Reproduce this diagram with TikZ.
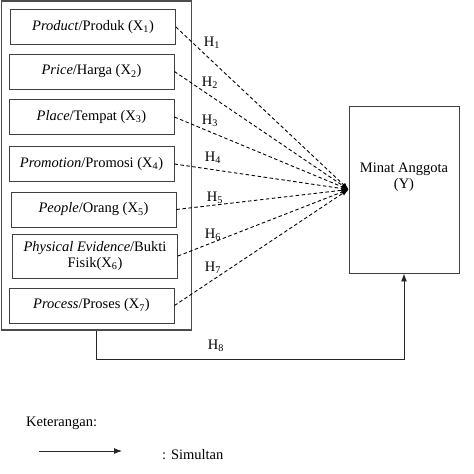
\documentclass[tikz,border=0pt]{standalone}
\usepackage{fontspec}
\setmainfont{Liberation Serif}
\usetikzlibrary{arrows.meta}
\begin{document}
\begin{tikzpicture}[x=1pt,y=1pt]
\tikzstyle{every node}+=[inner sep=0pt, font=\fontsize{14.5}{16.5}\selectfont]
\tikzstyle{varbox}=[draw=black!75, line width=0.9pt, minimum width=165, minimum height=35, align=center]
\tikzstyle{hyp}=[black, line width=0.9pt, dash pattern=on 3.5pt off 2.5pt, -{Latex[length=7pt,width=5pt]}]
\tikzstyle{solid arrow}=[black!85, line width=0.9pt, -{Latex[length=8pt,width=6pt]}]
\useasboundingbox (0,0) rectangle (474,-474);
\node [draw=black!70, line width=1.3pt, minimum width=190, minimum height=329] (grp) at (96.5,-165.5) {};
\node [varbox] (x1) at (93,-27) {\textit{Product}/Produk (X\textsubscript{1})};
\node [varbox] (x2) at (91.5,-71.5) {\textit{Price}/Harga (X\textsubscript{2})};
\node [varbox] (x3) at (91.5,-117) {\textit{Place}/Tempat (X\textsubscript{3})};
\node [varbox] (x4) at (91.5,-164) {\textit{Promotion}/Promosi (X\textsubscript{4})};
\node [varbox] (x5) at (93.5,-209.5) {\textit{People}/Orang (X\textsubscript{5})};
\node [varbox, minimum height=44] (x6) at (95,-256) {\textit{Physical Evidence}/Bukti\\Fisik(X\textsubscript{6})};
\node [varbox] (x7) at (91.5,-305.5) {\textit{Process}/Proses (X\textsubscript{7})};
\node [draw=black!75, line width=0.9pt, minimum width=110, minimum height=167] (y) at (404,-189.5) {};
\node [align=center] (ylab) at (404,-177) {Minat Anggota\\(Y)};
\foreach \i in {1,...,7}
  \draw [hyp] (x\i.east) -- (y.west);
\draw (212,-43) node {H\textsubscript{1}};
\draw (210,-83) node {H\textsubscript{2}};
\draw (210,-121) node {H\textsubscript{3}};
\draw (213,-158) node {H\textsubscript{4}};
\draw (215,-198) node {H\textsubscript{5}};
\draw (213,-235) node {H\textsubscript{6}};
\draw (213,-268) node {H\textsubscript{7}};
\draw [solid arrow] (grp.south) -- ++(0,-29) -| (y.south);
\draw (216,-346) node {H\textsubscript{8}};
\node [anchor=west] (ket) at (26,-423) {Keterangan:};
\coordinate (la) at (39,-451);
\coordinate (lb) at (122,-451);
\draw [solid arrow] (la) -- (lb);
\node [anchor=west] (sim) at (162,-455) {: Simultan};
\end{tikzpicture}
\end{document}
